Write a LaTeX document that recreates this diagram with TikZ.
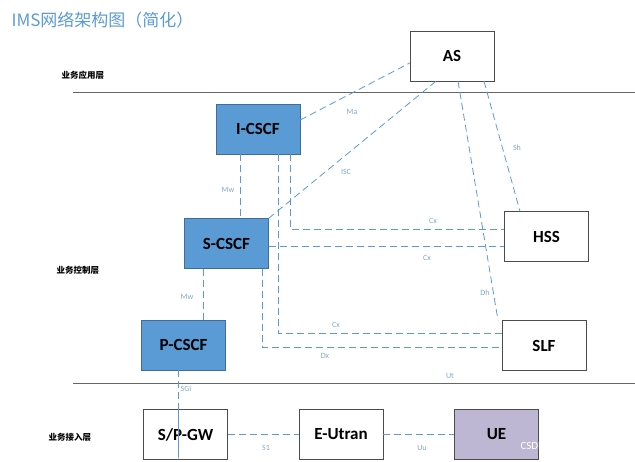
\documentclass[tikz,border=0pt]{standalone}
\usepackage{fontspec}
\setmainfont{Carlito}
\newfontfamily\cjk{Noto Sans CJK SC}
\definecolor{imsblue}{HTML}{5B9BD5}
\definecolor{lbl}{HTML}{7FA6CE}
\definecolor{uefill}{HTML}{BDB7D3}
\begin{document}
\begin{tikzpicture}[x=1pt,y=-1pt,
  box/.style={draw=black!70, thin, minimum width=84pt, minimum height=50pt, font=\bfseries\fontsize{17}{17}\selectfont},
  cscf/.style={box, fill=imsblue, draw=imsblue!70!black},
  link/.style={draw=imsblue, dashed, dash pattern=on 7pt off 4pt, thick},
  lab/.style={text=lbl, font=\fontsize{8}{8}\selectfont},
  layer/.style={font=\cjk\bfseries\fontsize{8.5}{9}\selectfont}]
\useasboundingbox (0,0) rectangle (635,462);
\node[anchor=west, text=imsblue, font=\cjk\fontsize{17}{17}\selectfont] (title) at (8,20) {IMS网络架构图（简化）};
\node[layer, anchor=west] (l1) at (58,75) {业务应用层};
\node[layer, anchor=west] (l2) at (53,270) {业务控制层};
\node[layer, anchor=west] (l3) at (45,437) {业务接入层};
\draw[black!60] (73,92) coordinate (a1) -- (635,92) coordinate (a2);
\draw[black!60] (73,383) coordinate (b1) -- (635,383) coordinate (b2);

\node[box] (AS) at (452,56) {AS};
\node[cscf] (I) at (258,129) {I-CSCF};
\node[cscf] (S) at (226.5,243.5) {S-CSCF};
\node[box] (HSS) at (546.5,236.5) {HSS};
\node[cscf] (P) at (183.5,345) {P-CSCF};
\node[box] (SLF) at (544,345.5) {SLF};
\node[box] (GW) at (185.5,434.5) {S/P-GW};
\node[box] (EU) at (341,434.5) {E-Utran};
\node[box, fill=uefill] (UE) at (496.5,434.5) {UE};

\draw[link] (I.east |- 0,120) -- (AS.west |- 0,63);
\draw[link] (S.north east) -- (AS.south west -| 436,0);
\draw[link] (I.south -| 240,0) -- (S.north -| 240,0);
\draw[link] (I.south -| 290,0) -- (290,229) -- (HSS.west |- 0,229);
\draw[link] (S.east |- 0,246) -- (HSS.west |- 0,246);
\draw[link] (I.south -| 278,0) -- (278,333) -- (SLF.west |- 0,333);
\draw[link] (S.south -| 262,0) -- (262,347) -- (SLF.west |- 0,347);
\draw[link] (AS.south -| 484,0) -- (HSS.north -| 520,0);
\draw[link] (AS.south -| 458,0) -- (SLF.north -| 498,0);
\draw[link] (S.south -| 203,0) -- (P.north -| 203,0);
\draw[link] (P.south -| 178,0) -- (GW.south -| 178,0) -- (GW.north -| 178,0);
\draw[link] (GW) -- (EU);
\draw[link] (EU) -- (UE);

\node[lab] (ma) at (352,112) {Ma};
\node[lab] (isc) at (346,172) {ISC};
\node[lab] (mw1) at (228,190) {Mw};
\node[lab] (cx1) at (433,221) {Cx};
\node[lab] (cx2) at (427,258) {Cx};
\node[lab] (cx3) at (336,325) {Cx};
\node[lab] (dx) at (325,356) {Dx};
\node[lab] (sh) at (517,148) {Sh};
\node[lab] (dh) at (485,293) {Dh};
\node[lab] (ut) at (450,376) {Ut};
\node[lab] (mw2) at (187,297) {Mw};
\node[lab] (sgi) at (186,389) {SGi};
\node[lab] (s1) at (266,448) {S1};
\node[lab] (uu) at (422,448) {Uu};
\node[text=white, font=\fontsize{11}{11}\selectfont] (wm) at (562,446) {CSDN @LinkinOvO};
\end{tikzpicture}
\end{document}
